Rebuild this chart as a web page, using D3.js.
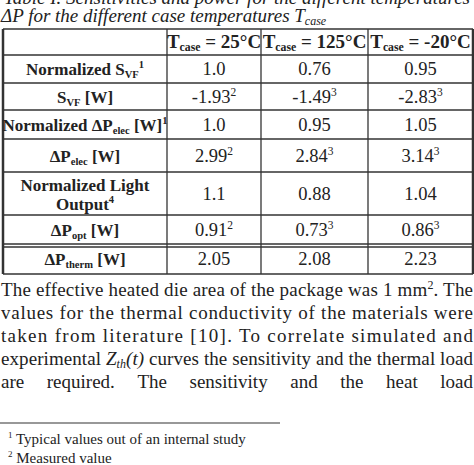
<!DOCTYPE html>
<html><head><meta charset="utf-8">
<script src="https://cdn.jsdelivr.net/npm/d3@7"></script>
<style>body{margin:0;background:#fff}svg{display:block} text{font-family:"Liberation Serif","Times New Roman",Times,serif}</style>
</head><body>
<script>
const columns = ["25", "125", "-20"];
const rowLabels = [
  [["Normalized S",""],["VF","sub"],["1","sup"]],
  [["S",""],["VF","sub"],[" [W]",""]],
  [["Normalized ΔP",""],["elec","sub"],[" [W]",""],["1","sup"]],
  [["ΔP",""],["elec","sub"],[" [W]",""]],
  [["Normalized Light",""]],
  [["ΔP",""],["opt","sub"],[" [W]",""]],
  [["ΔP",""],["therm","sub"],[" [W]",""]]
];
const row5Second = [["Output",""],["4","sup"]];
const values25 = ["1.0","-1.93","1.0","2.99","1.1","0.91","2.05"];
const values125 = ["0.76","-1.49","0.95","2.84","0.88","0.73","2.08"];
const valuesM20 = ["0.95","-2.83","1.05","3.14","1.04","0.86","2.23"];
const marks25 = ["","2","","2","","2",""];
const marks125 = ["","3","","3","","3",""];
const marksM20 = ["","3","","3","","3",""];
const bodyLines = [
  "The effective heated die area of the package was 1 mm|2|. The",
  "values for the thermal conductivity of the materials were",
  "taken from literature [10]. To correlate simulated and",
  "experimental Z_th(t) curves the sensitivity and the thermal load",
  "are required. The sensitivity and the heat load"
];
const footnotes = [["1","Typical values out of an internal study"],["2","Measured value"]];

const W=474,H=465;
const FF='"Liberation Serif","Times New Roman",Times,serif';
const svg=d3.select("body").append("svg").attr("width",W).attr("height",H);
const ink="#222";
const txt=(x,y,size)=>svg.append("text").attr("x",x).attr("y",y).attr("font-size",size).attr("font-family",FF).attr("fill",ink);
txt(237,4,19).attr("text-anchor","middle").attr("font-style","italic")
  .text("Table I. Sensitivities and power for the different temperatures");
const cap=txt(1,22,19).attr("font-style","italic");
cap.append("tspan").text("ΔP for the different case temperatures T");
cap.append("tspan").attr("font-size",12).attr("baseline-shift","-3").text("case");

const colEdges=[3,167,261,368,473];
const rowEdges=[29,55,83,110,139,172,215,244,274];
const line=(x1,y1,x2,y2,w)=>svg.append("line").attr("x1",x1).attr("y1",y1).attr("x2",x2).attr("y2",y2).attr("stroke","#333").attr("stroke-width",w||1.3);
rowEdges.forEach(y=>line(colEdges[0],y,colEdges[4],y));
line(colEdges[0],247,colEdges[4],247);
colEdges.forEach((x,i)=>line(x,rowEdges[0],x,rowEdges[8],(i==0||i==4)?2.5:1.3));

function rich(sel,parts,size){
  parts.forEach(([t,k])=>{
    const s=sel.append("tspan").attr("font-size",k?size*0.62:size).text(t);
    if(k==="sub") s.attr("baseline-shift","-3");
    else if(k==="sup") s.attr("baseline-shift","7");
  });
}
columns.forEach((c,i)=>{
  const t=txt((colEdges[i+1]+colEdges[i+2])/2,48,19).attr("text-anchor","middle").attr("font-weight","bold");
  rich(t,[["T",""],["case","sub"],[" = "+c+"°C",""]],19);
});
const valCols=[[values25,marks25],[values125,marks125],[valuesM20,marksM20]];
rowLabels.forEach((lab,r)=>{
  const yc=(rowEdges[r+1]+rowEdges[r+2])/2;
  const x=(colEdges[0]+colEdges[1])/2;
  if(r===4){
    rich(txt(x,yc-3,17).attr("text-anchor","middle").attr("font-weight","bold"),lab,17);
    rich(txt(x,yc+16,17).attr("text-anchor","middle").attr("font-weight","bold"),row5Second,17);
  } else {
    rich(txt(x,yc+6,17).attr("text-anchor","middle").attr("font-weight","bold"),lab,17);
  }
  valCols.forEach(([vals,mk],i)=>{
    const t=txt((colEdges[i+1]+colEdges[i+2])/2,yc+6,18.5).attr("text-anchor","middle");
    const parts=[[vals[r],""]]; if(mk[r]) parts.push([mk[r],"sup"]);
    rich(t,parts,18.5);
  });
});
const bx0=1,bx1=473;
bodyLines.forEach((ln,i)=>{
  const y=296+i*23;
  const t=txt(bx0,y,19);
  if(i===0){ const p=ln.split("|"); t.append("tspan").text(p[0]); t.append("tspan").attr("font-size",12).attr("baseline-shift","7").text(p[1]); t.append("tspan").text(p[2]); }
  else if(i===3){ t.append("tspan").text("experimental "); t.append("tspan").attr("font-style","italic").text("Z");
    t.append("tspan").attr("font-style","italic").attr("font-size",12).attr("baseline-shift","-3").text("th");
    t.append("tspan").attr("font-style","italic").text("(t)"); t.append("tspan").text(" curves the sensitivity and the thermal load"); }
  else t.text(ln);
  if(i<4){ t.attr("textLength",bx1-bx0).attr("lengthAdjust","spacing"); }
  else {
    t.remove();
    const words=ln.split(" ");
    const widths=words.map(w=>{const n=txt(0,-50,19).text(w);const b=n.node().getComputedTextLength();n.remove();return b;});
    const gap=(bx1-bx0-d3.sum(widths))/(words.length-1);
    let x=bx0;
    words.forEach((w,j)=>{txt(x,y,19).text(w); x+=widths[j]+gap;});
  }
});
line(0,423,280,423,1.2);
footnotes.forEach(([n,s],i)=>{
  const t=txt(8,444+i*19,15);
  t.append("tspan").attr("font-size",9).attr("baseline-shift","6").text(n);
  t.append("tspan").text(" "+s);
});
</script>
</body></html>
